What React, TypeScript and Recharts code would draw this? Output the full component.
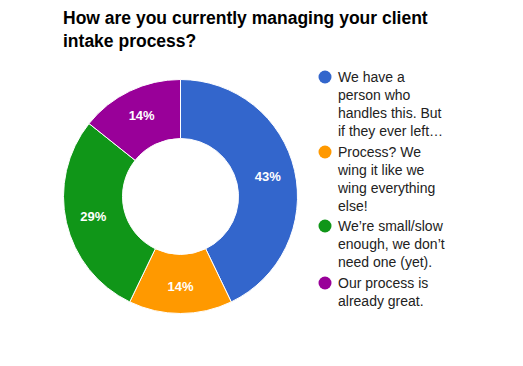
import { PieChart, Pie, Cell, Legend } from "recharts";

const labels = [
  "We have a person who handles this. But if they ever left…",
  "Process? We wing it like we wing everything else!",
  "We’re small/slow enough, we don’t need one (yet).",
  "Our process is already great.",
];
const responses = [3, 1, 2, 1];
const colors = ["#3366cc", "#ff9900", "#109618", "#990099"];

const data = labels.map((name, i) => ({ name, value: responses[i] }));

const FONT = "Arial, 'Liberation Sans', sans-serif";
const RAD = Math.PI / 180;

const renderLabel = (props: any) => {
  const { cx, cy, midAngle, innerRadius, outerRadius, percent } = props;
  const r = (innerRadius + outerRadius) / 2 + 2;
  const x = cx + r * Math.cos(-midAngle * RAD);
  const y = cy + r * Math.sin(-midAngle * RAD);
  return (
    <text
      x={x}
      y={y}
      fill="#ffffff"
      textAnchor="middle"
      dominantBaseline="central"
      fontFamily={FONT}
      fontSize={13}
      fontWeight="bold"
    >
      {Math.round(percent * 100)}%
    </text>
  );
};

const LegendContent = () => (
  <div style={{ fontFamily: FONT, fontSize: 14, lineHeight: "18px", color: "#222" }}>
    {labels.map((name, i) => (
      <div key={name} style={{ display: "flex", alignItems: "flex-start", marginBottom: 2.5 }}>
        <svg width={14} height={18} style={{ flexShrink: 0, marginRight: 6 }}>
          <circle cx={7} cy={9} r={6.5} fill={colors[i]} />
        </svg>
        <span style={{ width: 108, flexShrink: 0 }}>{name}</span>
      </div>
    ))}
  </div>
);

export default function App() {
  return (
    <div style={{ position: "absolute", left: 0, top: 0, width: 523, height: 366, background: "#fff" }}>
      <div
        style={{
          position: "absolute",
          left: 63,
          top: 7,
          width: 420,
          fontFamily: FONT,
          fontSize: 17.5,
          fontWeight: "bold",
          lineHeight: "23px",
          color: "#000",
        }}
      >
        How are you currently managing your client intake process?
      </div>
      <PieChart
        width={523}
        height={366}
        margin={{ top: 0, right: 0, bottom: 0, left: 0 }}
        style={{ position: "absolute", left: 0, top: 0 }}
      >
        <Pie
          data={data}
          dataKey="value"
          nameKey="name"
          cx={180.5}
          cy={196.5}
          innerRadius={58}
          outerRadius={117}
          startAngle={90}
          endAngle={-270}
          stroke="#ffffff"
          strokeWidth={1}
          label={renderLabel}
          labelLine={false}
          isAnimationActive={false}
        >
          {data.map((d, i) => (
            <Cell key={d.name} fill={colors[i]} />
          ))}
        </Pie>
        <Legend
          layout="vertical"
          verticalAlign="top"
          align="right"
          content={<LegendContent />}
          wrapperStyle={{ position: "absolute", left: 318, top: 68, width: 200 }}
        />
      </PieChart>
    </div>
  );
}
